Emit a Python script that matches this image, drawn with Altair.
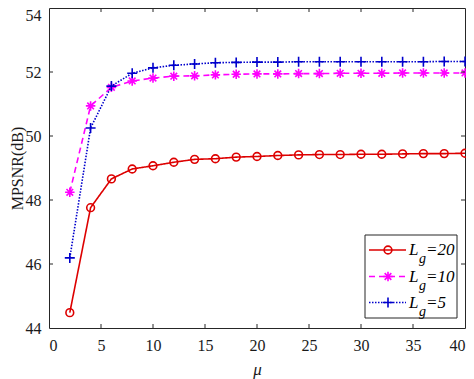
import altair as alt
import pandas as pd

mu = [2, 4, 6, 8, 10, 12, 14, 16, 18, 20, 22, 24, 26, 28, 30, 32, 34, 36, 38, 40]
lg20 = [44.48, 47.76, 48.66, 48.97, 49.07, 49.18, 49.27, 49.29, 49.34, 49.36,
        49.39, 49.41, 49.42, 49.42, 49.43, 49.43, 49.44, 49.45, 49.45, 49.46]
lg10 = [48.24, 50.94, 51.52, 51.72, 51.81, 51.87, 51.88, 51.91, 51.93, 51.94,
        51.94, 51.95, 51.95, 51.96, 51.96, 51.96, 51.97, 51.97, 51.97, 51.97]
lg5 = [46.19, 50.25, 51.56, 51.96, 52.13, 52.21, 52.25, 52.29, 52.30, 52.31,
       52.31, 52.32, 52.32, 52.32, 52.32, 52.32, 52.32, 52.32, 52.33, 52.33]

x_ticks = [0, 5, 10, 15, 20, 25, 30, 35, 40]
y_ticks = [44, 46, 48, 50, 52, 54]
series_names = ["20", "10", "5"]

W, H = 416, 320
FONT = "Liberation Serif"

CIRCLE = "circle"
ASTER = "M-1,0L1,0M0,-1L0,1M-0.7,-0.7L0.7,0.7M-0.7,0.7L0.7,-0.7"
PLUS = "M-1,0L1,0M0,-1L0,1"

styles = [
    dict(vals=lg20, color="#dd0000", dash=[1, 0], shape=CIRCLE, size=60),
    dict(vals=lg10, color="#ff00ff", dash=[6, 4], shape=ASTER, size=90),
    dict(vals=lg5, color="#0000cc", dash=[1.5, 1.5], shape=PLUS, size=100),
]

xs = alt.Scale(domain=[0, 40], nice=False, zero=False)
ys = alt.Scale(domain=[44, 54], nice=False, zero=False)

layers = []
for i, st in enumerate(styles):
    df = pd.DataFrame({"mu": mu, "v": st["vals"]})
    base = alt.Chart(df)
    if i == 0:
        x_enc = alt.X("mu:Q", scale=xs, axis=alt.Axis(values=x_ticks, title="μ", ticks=False, domain=False,
                                                       grid=False, labelPadding=9, titlePadding=8,
                                                       titleFontStyle="italic", titleFontWeight="normal"))
        y_enc = alt.Y("v:Q", scale=ys, axis=alt.Axis(values=y_ticks, title="MPSNR(dB)", ticks=False, domain=False,
                                                      grid=False, labelPadding=8, titlePadding=0,
                                                      titleFontSize=16,
                                                      labelOffset=alt.ExprRef("datum.value == 54 ? 7 : 0"),
                                                      titleFontWeight="normal"))
    else:
        x_enc = alt.X("mu:Q", scale=xs)
        y_enc = alt.Y("v:Q", scale=ys)
    line = base.mark_line(color=st["color"], strokeWidth=1.6, strokeDash=st["dash"]).encode(x=x_enc, y=y_enc)
    pts = base.mark_point(shape=st["shape"], size=st["size"], filled=False, color=st["color"],
                          strokeWidth=1.6, opacity=1).encode(x=alt.X("mu:Q", scale=xs), y=alt.Y("v:Q", scale=ys))
    layers += [line, pts]

# inward ticks on all four sides
xt = pd.DataFrame({"t": x_ticks[1:-1]})
yt = pd.DataFrame({"t": y_ticks[1:-1]})
tick_col = "#262626"
layers.append(alt.Chart(xt).mark_rule(color=tick_col, strokeWidth=1).encode(
    x=alt.X("t:Q", scale=xs), y=alt.value(H), y2=alt.value(H - 4)))
layers.append(alt.Chart(xt).mark_rule(color=tick_col, strokeWidth=1).encode(
    x=alt.X("t:Q", scale=xs), y=alt.value(0), y2=alt.value(4)))
layers.append(alt.Chart(yt).mark_rule(color=tick_col, strokeWidth=1).encode(
    y=alt.Y("t:Q", scale=ys), x=alt.value(0), x2=alt.value(4)))
layers.append(alt.Chart(yt).mark_rule(color=tick_col, strokeWidth=1).encode(
    y=alt.Y("t:Q", scale=ys), x=alt.value(W), x2=alt.value(W - 4)))

# legend
one = pd.DataFrame({"a": [0]})
lx0, lx1, ly0, ly1 = 316, 408, 227, 310
layers.append(alt.Chart(one).mark_rect(fill="white", stroke="#262626", strokeWidth=1).encode(
    x=alt.value(lx0), x2=alt.value(lx1), y=alt.value(ly0), y2=alt.value(ly1)))
rows = [242, 268.5, 294.5]
for st, name, ry in zip(styles, series_names, rows):
    layers.append(alt.Chart(one).mark_rule(color=st["color"], strokeWidth=1.6, strokeDash=st["dash"]).encode(
        x=alt.value(320), x2=alt.value(357), y=alt.value(ry)))
    layers.append(alt.Chart(one).mark_point(shape=st["shape"], size=st["size"], filled=False, color=st["color"],
                                            strokeWidth=1.6, opacity=1).encode(x=alt.value(339), y=alt.value(ry)))
    layers.append(alt.Chart(one).mark_text(text="L", font=FONT, fontSize=17, fontStyle="italic", align="left",
                                           baseline="middle", color="black").encode(x=alt.value(360), y=alt.value(ry)))
    layers.append(alt.Chart(one).mark_text(text="g", font=FONT, fontSize=14, fontStyle="italic", align="left",
                                           baseline="middle", color="black").encode(x=alt.value(370), y=alt.value(ry + 9)))
    layers.append(alt.Chart(one).mark_text(text="=" + name, font=FONT, fontSize=17, fontStyle="italic", align="left",
                                           baseline="middle", color="black").encode(x=alt.value(377), y=alt.value(ry)))

chart = alt.layer(*layers).properties(
    width=W, height=H,
    background="white",
    autosize=alt.AutoSizeParams(type="none"),
    padding={"left": 41, "top": 0, "right": 1, "bottom": 51},
).configure_view(stroke="#262626", strokeWidth=1).configure_axis(
    labelFont=FONT, labelFontSize=16, labelColor="#1a1a1a",
    titleFont=FONT, titleFontSize=17, titleColor="#1a1a1a",
)

chart.save("out.html", embed_options={"renderer": "svg", "actions": False})
